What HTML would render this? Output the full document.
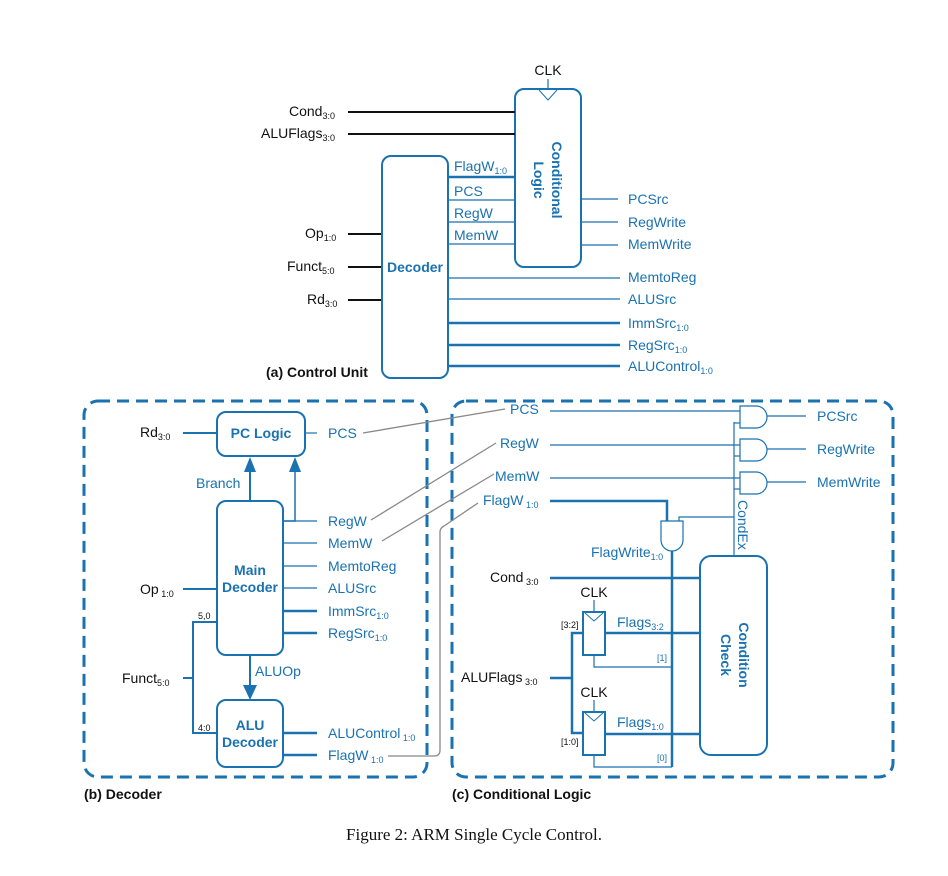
<!DOCTYPE html>
<html><head><style>
html,body{margin:0;padding:0;background:#fff;}
svg{display:block;}
text{font-family:"Liberation Sans",sans-serif;}
.b{fill:#1a72b0;}
.k{fill:#111;}
</style></head><body>
<svg width="948" height="876" viewBox="0 0 948 876" xmlns="http://www.w3.org/2000/svg">
<g font-size="14">
<!-- (a) -->
<text x="548" y="75" text-anchor="middle" class="k">CLK</text>
<line x1="548" y1="79" x2="548" y2="90" stroke="#1a72b0" stroke-width="1.2"/>
<rect x="515" y="89" width="66" height="178" rx="9" fill="none" stroke="#1a72b0" stroke-width="2"/>
<polyline points="539,90 548,100 557,90" fill="none" stroke="#1a72b0" stroke-width="1"/>
<text transform="translate(552,180) rotate(90)" text-anchor="middle" class="b" font-weight="bold">Conditional</text>
<text transform="translate(534,180) rotate(90)" text-anchor="middle" class="b" font-weight="bold">Logic</text>
<g stroke="#111" stroke-width="2">
<line x1="348" y1="112" x2="515" y2="112"/>
<line x1="348" y1="134" x2="515" y2="134"/>
<line x1="348" y1="234" x2="382" y2="234"/>
<line x1="348" y1="267" x2="382" y2="267"/>
<line x1="348" y1="300" x2="382" y2="300"/>
</g>
<text x="289" y="116" class="k">Cond<tspan font-size="9" dy="3">3:0</tspan></text>
<text x="261" y="138" class="k">ALUFlags<tspan font-size="9" dy="3">3:0</tspan></text>
<text x="305" y="238" class="k">Op<tspan font-size="9" dy="3">1:0</tspan></text>
<text x="287" y="271" class="k">Funct<tspan font-size="9" dy="3">5:0</tspan></text>
<text x="307" y="304" class="k">Rd<tspan font-size="9" dy="3">3:0</tspan></text>
<rect x="382" y="156" width="66" height="222" rx="9" fill="none" stroke="#1a72b0" stroke-width="2"/>
<text x="415" y="272" text-anchor="middle" class="b" font-weight="bold">Decoder</text>
<g stroke="#1a72b0">
<line x1="448" y1="177" x2="515" y2="177" stroke-width="2.5"/>
<line x1="448" y1="200" x2="515" y2="200" stroke-width="1.2"/>
<line x1="448" y1="222" x2="515" y2="222" stroke-width="1.2"/>
<line x1="448" y1="244" x2="515" y2="244" stroke-width="1.2"/>
<line x1="581" y1="199" x2="618" y2="199" stroke-width="1.2"/>
<line x1="581" y1="222" x2="618" y2="222" stroke-width="1.2"/>
<line x1="581" y1="245" x2="618" y2="245" stroke-width="1.2"/>
<line x1="448" y1="278" x2="620" y2="278" stroke-width="1.2"/>
<line x1="448" y1="299" x2="620" y2="299" stroke-width="1.2"/>
<line x1="448" y1="323" x2="620" y2="323" stroke-width="2.5"/>
<line x1="448" y1="345" x2="620" y2="345" stroke-width="2.5"/>
<line x1="448" y1="366" x2="620" y2="366" stroke-width="2.5"/>
</g>
<text x="454" y="171" class="b">FlagW<tspan font-size="9" dy="3">1:0</tspan></text>
<text x="454" y="196" class="b">PCS</text>
<text x="454" y="218" class="b">RegW</text>
<text x="454" y="240" class="b">MemW</text>
<text x="628" y="204" class="b">PCSrc</text>
<text x="628" y="227" class="b">RegWrite</text>
<text x="628" y="249" class="b">MemWrite</text>
<text x="628" y="282" class="b">MemtoReg</text>
<text x="628" y="304" class="b">ALUSrc</text>
<text x="628" y="328" class="b">ImmSrc<tspan font-size="9" dy="3">1:0</tspan></text>
<text x="628" y="350" class="b">RegSrc<tspan font-size="9" dy="3">1:0</tspan></text>
<text x="628" y="371" class="b">ALUControl<tspan font-size="9" dy="3">1:0</tspan></text>
<text x="266" y="377" class="k" font-weight="bold">(a) Control Unit</text>

<!-- dashed boxes -->
<rect x="84" y="401" width="343" height="376" rx="14" fill="none" stroke="#1a72b0" stroke-width="3" stroke-dasharray="12,7"/>
<rect x="452" y="401" width="441" height="376" rx="14" fill="none" stroke="#1a72b0" stroke-width="3" stroke-dasharray="12,7"/>

<!-- gray connectors -->
<g stroke="#888" stroke-width="1.3" fill="none">
<line x1="363" y1="433" x2="505" y2="409"/>
<line x1="371" y1="520" x2="496" y2="443"/>
<line x1="382" y1="541" x2="494" y2="474"/>
<path d="M388,756 L434,756 Q440,756 440,750 L440,532 Q440,528 444,526 L478,503"/>
</g>

<!-- (b) -->
<rect x="217" y="412" width="88" height="44" rx="9" fill="none" stroke="#1a72b0" stroke-width="2"/>
<text x="261" y="438" text-anchor="middle" class="b" font-weight="bold">PC Logic</text>
<text x="140" y="437" class="k">Rd<tspan font-size="9" dy="3">3:0</tspan></text>
<g stroke="#1a72b0" stroke-width="2">
<line x1="183" y1="433" x2="217" y2="433"/>
<line x1="305" y1="433" x2="317" y2="433" stroke-width="1.2"/>
<line x1="183" y1="589" x2="217" y2="589"/>
<line x1="183" y1="678" x2="193" y2="678"/>
<polyline points="217,622 193,622 193,733 217,733" fill="none"/>
<line x1="250" y1="501" x2="250" y2="470"/>
<polyline points="283,521 295,521 295,470" fill="none" stroke-width="1.5"/>
<line x1="250" y1="655" x2="250" y2="688"/>
<line x1="283" y1="521" x2="317" y2="521" stroke-width="1.2"/>
<line x1="283" y1="543" x2="317" y2="543" stroke-width="1.2"/>
<line x1="283" y1="566" x2="317" y2="566" stroke-width="1.2"/>
<line x1="283" y1="588" x2="317" y2="588" stroke-width="1.2"/>
<line x1="283" y1="611" x2="317" y2="611" stroke-width="2.5"/>
<line x1="283" y1="633" x2="317" y2="633" stroke-width="2.5"/>
<line x1="283" y1="733" x2="317" y2="733" stroke-width="2.5"/>
<line x1="283" y1="755" x2="317" y2="755" stroke-width="2.5"/>
</g>
<polygon points="244,472 256,472 250,457" fill="#1a72b0"/>
<polygon points="289,472 301,472 295,457" fill="#1a72b0"/>
<polygon points="243,685 257,685 250,700" fill="#1a72b0"/>
<text x="328" y="438" class="b">PCS</text>
<text x="196" y="488" class="b">Branch</text>
<rect x="217" y="501" width="66" height="154" rx="9" fill="none" stroke="#1a72b0" stroke-width="2"/>
<text x="250" y="575" text-anchor="middle" class="b" font-weight="bold">Main</text>
<text x="250" y="592" text-anchor="middle" class="b" font-weight="bold">Decoder</text>
<text x="328" y="526" class="b">RegW</text>
<text x="328" y="548" class="b">MemW</text>
<text x="328" y="571" class="b">MemtoReg</text>
<text x="328" y="593" class="b">ALUSrc</text>
<text x="328" y="616" class="b">ImmSrc<tspan font-size="9" dy="3">1:0</tspan></text>
<text x="328" y="638" class="b">RegSrc<tspan font-size="9" dy="3">1:0</tspan></text>
<text x="140" y="594" class="k">Op<tspan font-size="9" dy="3"> 1:0</tspan></text>
<text x="122" y="683" class="k">Funct<tspan font-size="9" dy="3">5:0</tspan></text>
<text x="198" y="619" class="k" font-size="9">5,0</text>
<text x="198" y="731" class="k" font-size="9">4:0</text>
<text x="255" y="676" class="b">ALUOp</text>
<rect x="217" y="700" width="66" height="67" rx="9" fill="none" stroke="#1a72b0" stroke-width="2"/>
<text x="250" y="730" text-anchor="middle" class="b" font-weight="bold">ALU</text>
<text x="250" y="747" text-anchor="middle" class="b" font-weight="bold">Decoder</text>
<text x="328" y="738" class="b">ALUControl<tspan font-size="9" dy="3"> 1:0</tspan></text>
<text x="328" y="760" class="b">FlagW<tspan font-size="9" dy="3"> 1:0</tspan></text>
<text x="84" y="799" class="k" font-weight="bold">(b) Decoder</text>

<!-- (c) -->
<text x="510" y="414" class="b">PCS</text>
<text x="500" y="448" class="b">RegW</text>
<text x="495" y="481" class="b">MemW</text>
<text x="483" y="505" class="b">FlagW<tspan font-size="9" dy="3"> 1:0</tspan></text>
<g stroke="#1a72b0" fill="none">
<line x1="550" y1="411" x2="740" y2="411" stroke-width="1.2"/>
<line x1="550" y1="445" x2="740" y2="445" stroke-width="1.2"/>
<line x1="550" y1="478" x2="740" y2="478" stroke-width="1.2"/>
<polyline points="550,501 667,501 667,521" stroke-width="2.5"/>
<line x1="734" y1="422" x2="734" y2="556" stroke-width="1.2"/>
<line x1="734" y1="423" x2="740" y2="423" stroke-width="1.2"/>
<line x1="734" y1="456" x2="740" y2="456" stroke-width="1.2"/>
<line x1="734" y1="489" x2="740" y2="489" stroke-width="1.2"/>
<polyline points="734,517 679,517 679,521" stroke-width="1.2"/>
<path d="M740,406 L756,406 A11,11 0 0 1 756,428 L740,428 Z" stroke-width="1.2"/>
<path d="M740,439 L756,439 A11,11 0 0 1 756,461 L740,461 Z" stroke-width="1.2"/>
<path d="M740,472 L756,472 A11,11 0 0 1 756,494 L740,494 Z" stroke-width="1.2"/>
<line x1="767" y1="416" x2="806" y2="416" stroke-width="1.2"/>
<line x1="767" y1="449" x2="806" y2="449" stroke-width="1.2"/>
<line x1="767" y1="482" x2="806" y2="482" stroke-width="1.2"/>
<path d="M661,521 L683,521 L683,540 A11,11 0 0 1 661,540 Z" stroke-width="1.2"/>
<line x1="672" y1="551" x2="672" y2="767" stroke-width="2.5"/>
<line x1="550" y1="578" x2="700" y2="578" stroke-width="2.5"/>
<line x1="550" y1="678" x2="572" y2="678" stroke-width="2.5"/>
<polyline points="583,633 572,633 572,733 583,733" stroke-width="2.5"/>
<rect x="583" y="612" width="22" height="43" stroke-width="2"/>
<rect x="583" y="712" width="22" height="43" stroke-width="2"/>
<polyline points="585,613 594,621 603,613" stroke-width="1"/>
<polyline points="585,713 594,721 603,713" stroke-width="1"/>
<line x1="594" y1="600" x2="594" y2="612" stroke-width="1.2"/>
<line x1="594" y1="700" x2="594" y2="712" stroke-width="1.2"/>
<line x1="605" y1="633" x2="700" y2="633" stroke-width="2.5"/>
<line x1="605" y1="734" x2="700" y2="734" stroke-width="2.5"/>
<polyline points="594,655 594,667 672,667" stroke-width="1.2"/>
<polyline points="594,755 594,767 672,767" stroke-width="1.2"/>
<rect x="700" y="556" width="67" height="199" rx="11" stroke-width="2"/>
</g>
<text x="817" y="421" class="b">PCSrc</text>
<text x="817" y="454" class="b">RegWrite</text>
<text x="817" y="487" class="b">MemWrite</text>
<text transform="translate(738,500) rotate(90)" class="b">CondEx</text>
<text x="591" y="557" class="b">FlagWrite<tspan font-size="9" dy="3">1:0</tspan></text>
<text x="490" y="582" class="k">Cond<tspan font-size="9" dy="3"> 3:0</tspan></text>
<text x="461" y="682" class="k">ALUFlags<tspan font-size="9" dy="3"> 3:0</tspan></text>
<text x="594" y="597" text-anchor="middle" class="k">CLK</text>
<text x="594" y="697" text-anchor="middle" class="k">CLK</text>
<text x="617" y="627" class="b">Flags<tspan font-size="9" dy="3">3:2</tspan></text>
<text x="617" y="727" class="b">Flags<tspan font-size="9" dy="3">1:0</tspan></text>
<text x="561" y="628" class="k" font-size="9">[3:2]</text>
<text x="561" y="745" class="k" font-size="9">[1:0]</text>
<text x="657" y="661" class="b" font-size="9">[1]</text>
<text x="657" y="761" class="b" font-size="9">[0]</text>
<text transform="translate(739,655) rotate(90)" text-anchor="middle" class="b" font-weight="bold">Condition</text>
<text transform="translate(721,655) rotate(90)" text-anchor="middle" class="b" font-weight="bold">Check</text>
<text x="452" y="799" class="k" font-weight="bold">(c) Conditional Logic</text>
</g>
<text x="474" y="840" text-anchor="middle" style="font-family:'Liberation Serif',serif;font-size:17px" fill="#111">Figure 2: ARM Single Cycle Control.</text>
</svg>
</body></html>
